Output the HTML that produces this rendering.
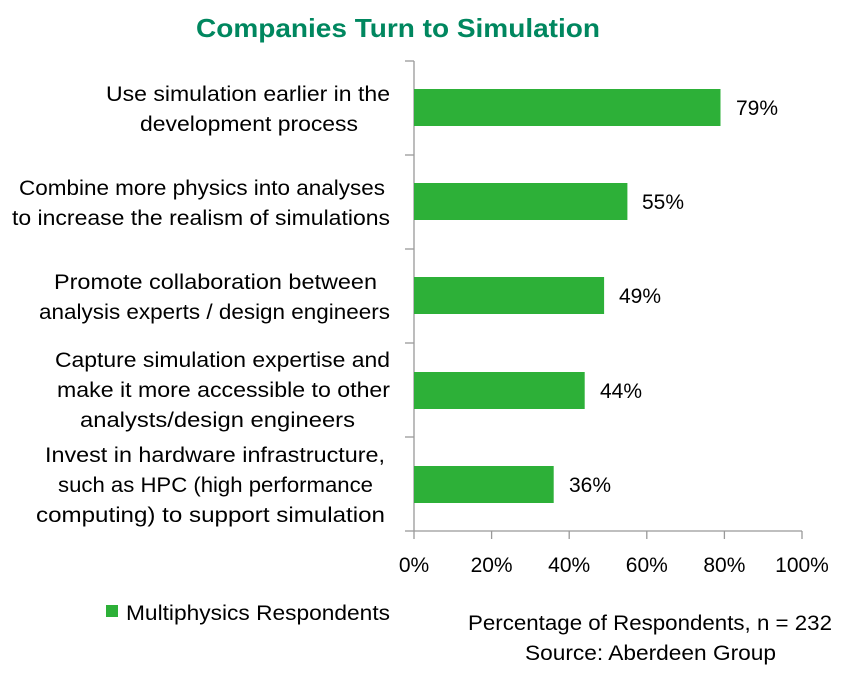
<!DOCTYPE html>
<html><head><meta charset="utf-8"><style>
body{margin:0;background:#fff;}
svg text{font-family:"Liberation Sans",sans-serif;fill:#000;}
</style></head><body>
<svg width="842" height="678" viewBox="0 0 842 678" xmlns="http://www.w3.org/2000/svg">
<rect width="842" height="678" fill="#fff"/>
<text x="196" y="37" textLength="404" lengthAdjust="spacingAndGlyphs" style="font-size:26px;font-weight:bold;fill:#00875f">Companies Turn to Simulation</text>
<g stroke="#999" stroke-width="1.3">
<line x1="414" y1="61" x2="414" y2="531"/>
<line x1="414" y1="531" x2="802" y2="531"/>
<line x1="405" y1="61" x2="414" y2="61"/>
<line x1="405" y1="155" x2="414" y2="155"/>
<line x1="405" y1="249" x2="414" y2="249"/>
<line x1="405" y1="343" x2="414" y2="343"/>
<line x1="405" y1="437" x2="414" y2="437"/>
<line x1="405" y1="531" x2="414" y2="531"/>
<line x1="414" y1="531" x2="414" y2="539"/>
<line x1="491.6" y1="531" x2="491.6" y2="539"/>
<line x1="569.2" y1="531" x2="569.2" y2="539"/>
<line x1="646.8" y1="531" x2="646.8" y2="539"/>
<line x1="724.4" y1="531" x2="724.4" y2="539"/>
<line x1="802" y1="531" x2="802" y2="539"/>
</g>
<g fill="#2db038">
<rect x="414" y="89" width="306.5" height="37"/>
<rect x="414" y="183" width="213.4" height="37"/>
<rect x="414" y="277" width="190.1" height="37"/>
<rect x="414" y="372" width="170.7" height="37"/>
<rect x="414" y="466" width="139.7" height="37"/>
</g>
<g style="font-size:21px" lengthAdjust="spacingAndGlyphs">
<text x="736" y="115" textLength="42">79%</text>
<text x="642" y="209" textLength="42">55%</text>
<text x="619" y="303" textLength="42">49%</text>
<text x="600" y="398" textLength="42">44%</text>
<text x="569" y="492" textLength="42">36%</text>
</g>
<g style="font-size:21px">
<text x="106" y="101" textLength="284" lengthAdjust="spacingAndGlyphs">Use simulation earlier in the</text>
<text x="140" y="131" textLength="218" lengthAdjust="spacingAndGlyphs">development process</text>
<text x="19" y="195" textLength="366" lengthAdjust="spacingAndGlyphs">Combine more physics into analyses</text>
<text x="12" y="225" textLength="378" lengthAdjust="spacingAndGlyphs">to increase the realism of simulations</text>
<text x="54" y="289" textLength="323" lengthAdjust="spacingAndGlyphs">Promote collaboration between</text>
<text x="39" y="319" textLength="351" lengthAdjust="spacingAndGlyphs">analysis experts / design engineers</text>
<text x="55" y="367" textLength="335" lengthAdjust="spacingAndGlyphs">Capture simulation expertise and</text>
<text x="57" y="397" textLength="333" lengthAdjust="spacingAndGlyphs">make it more accessible to other</text>
<text x="80" y="427" textLength="275" lengthAdjust="spacingAndGlyphs">analysts/design engineers</text>
<text x="45" y="462" textLength="340" lengthAdjust="spacingAndGlyphs">Invest in hardware infrastructure,</text>
<text x="58" y="492" textLength="315" lengthAdjust="spacingAndGlyphs">such as HPC (high performance</text>
<text x="36" y="522" textLength="349" lengthAdjust="spacingAndGlyphs">computing) to support simulation</text>
</g>
<g style="font-size:21px" text-anchor="middle">
<text x="414" y="572">0%</text>
<text x="491.6" y="572">20%</text>
<text x="569.2" y="572">40%</text>
<text x="646.8" y="572">60%</text>
<text x="724.4" y="572">80%</text>
<text x="802" y="572">100%</text>
</g>
<rect x="106" y="605" width="12" height="12" fill="#2db038"/>
<text x="126" y="620" textLength="264" lengthAdjust="spacingAndGlyphs" style="font-size:21px">Multiphysics Respondents</text>
<text x="468" y="630" textLength="364" lengthAdjust="spacingAndGlyphs" style="font-size:21px">Percentage of Respondents, n = 232</text>
<text x="525" y="660" textLength="251" lengthAdjust="spacingAndGlyphs" style="font-size:21px">Source: Aberdeen Group</text>
</svg>
</body></html>
